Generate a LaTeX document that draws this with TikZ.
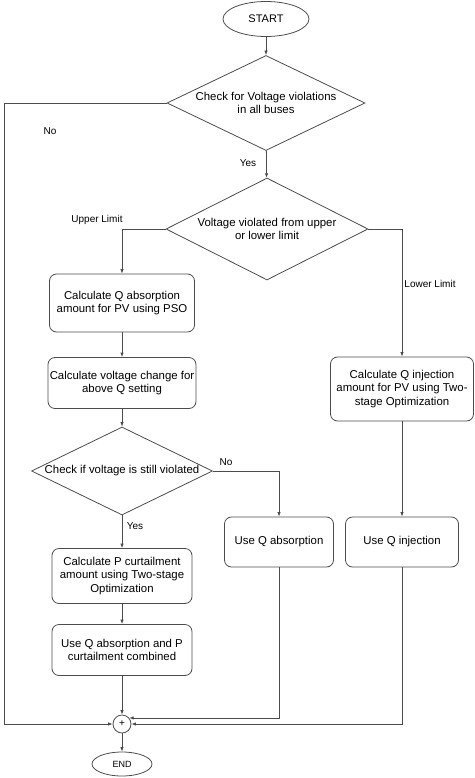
\documentclass[tikz,border=0pt]{standalone}
\usepackage{fontspec}
\setmainfont{Liberation Sans}
\usepackage{tikz}
\usetikzlibrary{shapes.geometric,arrows.meta}

\begin{document}
\begin{tikzpicture}[x=1pt,y=-1pt,
  >={Latex[length=4.5pt,width=3.5pt]},
  flow/.style={->,draw=black!70,line width=0.8pt},
  box/.style={draw=black!70,line width=0.8pt,rectangle,rounded corners=7pt,align=center,inner sep=0pt,font=\fontsize{11.4}{13.5}\selectfont},
  decide/.style={draw=black!70,line width=0.8pt,diamond,shape aspect=2,align=center,inner sep=0pt,font=\fontsize{11.4}{13.5}\selectfont},
  term/.style={draw=black!70,line width=0.8pt,ellipse,inner sep=0pt},
  lbl/.style={font=\fontsize{10}{12}\selectfont}]
\useasboundingbox (0,0) rectangle (474,778);

\node[term, minimum width=86pt, minimum height=35pt, font=\fontsize{11}{13}\selectfont] (start) at (266,19) {START};
\node[decide, minimum width=198pt, minimum height=95pt] (check) at (266,103) {Check for Voltage violations\\in all buses};
\node[decide, minimum width=202pt, minimum height=102pt] (viol) at (267,229) {Voltage violated from upper\\or lower limit};

\node[box, minimum width=145pt, minimum height=58pt] (calcabs) at (122,303) {Calculate Q absorption\\amount for PV using PSO};
\node[box, minimum width=148pt, minimum height=51pt] (calcdv) at (122,383) {Calculate voltage change for\\above Q setting};
\node[box, minimum width=143pt, minimum height=64pt] (calcinj) at (402,389) {Calculate Q injection\\amount for PV using Two-\\stage Optimization};

\node[decide, minimum width=181pt, minimum height=88pt] (still) at (122,471) {Check if voltage is still violated};

\node[box, minimum width=109pt, minimum height=50pt] (useabs) at (279,542) {Use Q absorption};
\node[box, minimum width=113pt, minimum height=50pt] (useinj) at (402,542) {Use Q injection};
\node[box, minimum width=140pt, minimum height=55pt] (calcp) at (122,576) {Calculate P curtailment\\amount using Two-stage\\Optimization};
\node[box, minimum width=140pt, minimum height=51pt] (combo) at (122,650) {Use Q absorption and P\\curtailment combined};

\node[draw=black!70, line width=0.8pt, circle, inner sep=0pt, minimum size=18pt, font=\fontsize{10}{12}\selectfont] (plus) at (122,724) {+};
\node[term, minimum width=60pt, minimum height=24pt, font=\fontsize{9}{11}\selectfont] (stop) at (122,764) {END};

\coordinate (noturn) at (4,103);

\draw[flow] (start) -- (check);
\draw[flow] (check) -- (viol);
\draw[flow] (check.west) -- (noturn) |- (plus.west);
\draw[flow] (viol.west) -| (calcabs.north);
\draw[flow] (viol.east) -| (calcinj.north);
\draw[flow] (calcabs) -- (calcdv);
\draw[flow] (calcdv) -- (still);
\draw[flow] (still.east) -| (useabs.north);
\draw[flow] (still) -- (calcp);
\draw[flow] (calcinj) -- (useinj);
\draw[flow] (calcp) -- (combo);
\draw[flow] (combo) -- (plus);
\draw[flow] (useabs.south) |- (plus.40);
\draw[flow] (useinj.south) |- (plus.east);
\draw[flow] (plus) -- (stop);

\node[lbl] (lno) at (50,131) {No};
\node[lbl] (lyes) at (248,163) {Yes};
\node[lbl] (lup) at (97,220) {Upper Limit};
\node[lbl] (llow) at (430,284) {Lower Limit};
\node[lbl] (lno2) at (226,462) {No};
\node[lbl] (lyes2) at (135,526) {Yes};
\end{tikzpicture}
\end{document}
